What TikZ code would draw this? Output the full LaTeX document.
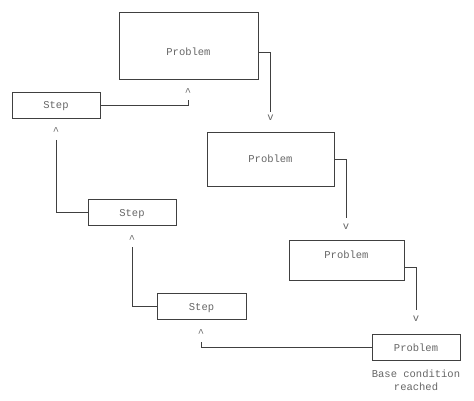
\documentclass[tikz,border=0pt]{standalone}
\usepackage{fontspec}
\setmonofont{Liberation Mono}
\usetikzlibrary{positioning}

\tikzset{
  box/.style={draw=black!75, line width=0.9pt, font=\ttfamily\fontsize{10.5}{13}\selectfont,
    text=black!60, minimum width=88pt, minimum height=26pt, text height=8pt, text depth=0pt, inner sep=0pt},
  tip/.style={font=\ttfamily\fontsize{10.5}{13}\selectfont, text=black!60, inner sep=0pt},
  link/.style={draw=black!75, line width=0.9pt},
}

\begin{document}
\begin{tikzpicture}[x=1pt, y=-1pt]
  \useasboundingbox (0,0) rectangle (474,401);

  % boxes
  \node[box, minimum width=139pt, minimum height=67pt, text height=21pt] (p1) at (188.5,45.5) {Problem};
  \node[box] (s1) at (56,105) {Step};
  \node[box, minimum width=127pt, minimum height=54pt] (p2) at (270.5,159) {Problem};
  \node[box] (s2) at (132,212.5) {Step};
  \node[box, minimum width=115pt, minimum height=40pt, text depth=12pt] (p3) at (346.5,260) {Problem};
  \node[box, minimum width=89pt] (s3) at (201.5,306.5) {Step};
  \node[box] (p4) at (416,347) {Problem};
  \node[tip, below=9pt of p4, align=center] (base) {Base condition\\reached};

  % ascii arrow tips
  \node[tip] (d1) at (270.5,118) {v};
  \node[tip] (u1) at (188,92) {\textasciicircum};
  \node[tip] (u2) at (56,131) {\textasciicircum};
  \node[tip] (d2) at (346,227) {v};
  \node[tip] (u3) at (132,239) {\textasciicircum};
  \node[tip] (d3) at (416,319) {v};
  \node[tip] (u4) at (201,333) {\textasciicircum};

  % going down
  \draw[link] (p1.east) ++(0,6.5) -| ([yshift=3pt]d1.north);
  \draw[link] (p2.east) -| ([yshift=6pt]d2.north);
  \draw[link] (p3.east) ++(0,7) -| ([yshift=6pt]d3.north);
  % coming back up
  \draw[link] (p4.west) -| ([yshift=-9pt]u4.center);
  \draw[link] ([yshift=-8pt]u3.center) |- (s3.west);
  \draw[link] ([yshift=-9pt]u2.center) |- (s2.west);
  \draw[link] (s1.east) -| ([yshift=-8pt]u1.center);
\end{tikzpicture}
\end{document}
